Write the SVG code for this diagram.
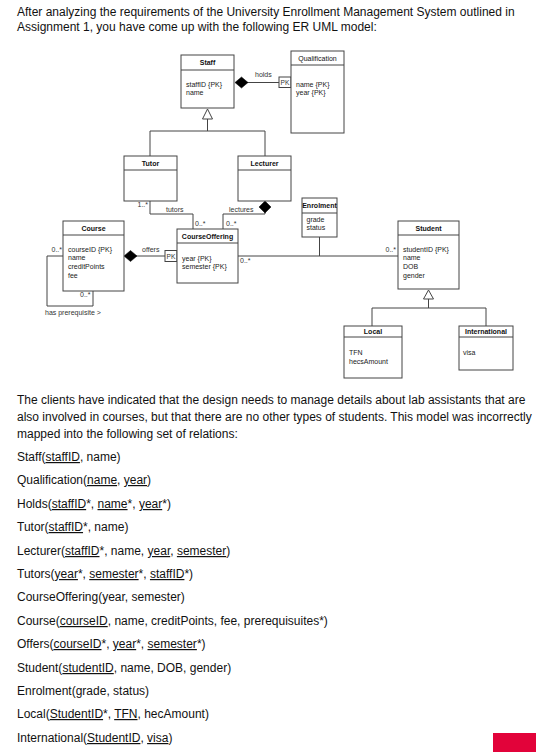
<svg xmlns="http://www.w3.org/2000/svg" width="552" height="752" viewBox="0 0 552 752">
<style>
.p{font-family:"Liberation Sans",Arial,sans-serif;font-size:12px;fill:#111}
.u{text-decoration:underline}
.box{fill:#fff;stroke:#444;stroke-width:1}
.div{stroke:#444;stroke-width:1}
.t{font-family:"Liberation Sans",Arial,sans-serif;font-size:7px;font-weight:bold;fill:#111;text-anchor:middle}
.tn{font-family:"Liberation Sans",Arial,sans-serif;font-size:7px;fill:#111;text-anchor:middle}
.a{font-family:"Liberation Sans",Arial,sans-serif;font-size:7px;fill:#222}
.ln{fill:none;stroke:#444;stroke-width:1}
.dia{fill:#000;stroke:#000;stroke-width:0.5}
.tri{fill:#fff;stroke:#444;stroke-width:1}
.lb{font-family:"Liberation Sans",Arial,sans-serif;font-size:7px;fill:#333}
.pk{font-family:"Liberation Sans",Arial,sans-serif;font-size:6.6px;fill:#333;text-anchor:middle}
</style>
<rect width="552" height="752" fill="#fff"/>
<g id="intro">
<text class="p" x="17" y="16">After analyzing the requirements of the University Enrollment Management System outlined in</text>
<text class="p" x="17" y="31">Assignment 1, you have come up with the following ER UML model:</text>
</g>
<g id="connectors">
<polyline class="ln" points="207.5,119 207.5,131"/>
<polyline class="ln" points="150,156 150,131 265,131 265,156"/>
<polygon class="tri" points="207.5,109 202.5,119 212.5,119"/>
<polyline class="ln" points="428.5,299 428.5,308"/>
<polyline class="ln" points="372,326 372,308 486,308 486,326"/>
<polygon class="tri" points="428.5,290 423.5,299 433.5,299"/>
<line class="ln" x1="247" y1="82.5" x2="279" y2="82.5"/>
<polygon class="dia" points="235,82.5 241.5,77 248,82.5 241.5,88"/>
<rect class="box" x="279" y="77" width="12" height="10.5"/>
<text class="pk" x="285" y="84.8">PK</text>
<text class="lb" x="255" y="77">holds</text>
<line class="ln" x1="136" y1="256" x2="165" y2="256"/>
<polygon class="dia" points="124,256 130.5,250.5 137,256 130.5,261.5"/>
<rect class="box" x="165" y="250.5" width="12" height="11"/>
<text class="pk" x="171" y="258.5">PK</text>
<text class="lb" x="142" y="251.5">offers</text>
<polyline class="ln" points="63,256 47,256 47,306 93,306 93,291"/>
<text class="lb" x="62" y="251.5" text-anchor="end">0..*</text>
<text class="lb" x="80" y="296.5">0..*</text>
<text class="lb" x="45" y="314.5">has prerequisite &gt;</text>
<polyline class="ln" points="150,201 150,214 193,214 193,229"/>
<text class="lb" x="148" y="206.5" text-anchor="end">1..*</text>
<text class="lb" x="166" y="211.5">tutors</text>
<text class="lb" x="195" y="226">0..*</text>
<polyline class="ln" points="223,229 223,214 265,214 265,212"/>
<polygon class="dia" points="265,201 271,207 265,213 259,207"/>
<text class="lb" x="229" y="211.5">lectures</text>
<text class="lb" x="226" y="226">0..*</text>
<line class="ln" x1="238" y1="256" x2="398" y2="256"/>
<line class="ln" x1="319.5" y1="237" x2="319.5" y2="256"/>
<text class="lb" x="240" y="263">0..*</text>
<text class="lb" x="396" y="251.5" text-anchor="end">0..*</text>
</g>
<g id="staff">
<rect class="box" x="181" y="55" width="53" height="53"/>
<line class="div" x1="181" y1="70" x2="234" y2="70"/>
<text class="t" x="207.5" y="64.5">Staff</text>
<text class="a" x="186" y="86.5">staffID {PK}</text>
<text class="a" x="186" y="95.2">name</text>
</g>
<g id="qualification">
<rect class="box" x="291" y="51" width="53" height="82"/>
<line class="div" x1="291" y1="65" x2="344" y2="65"/>
<text class="tn" x="317.5" y="60.5">Qualification</text>
<text class="a" x="296" y="86.5">name {PK}</text>
<text class="a" x="296" y="95.2">year {PK}</text>
</g>
<g id="tutor">
<rect class="box" x="124" y="156" width="53" height="45"/>
<line class="div" x1="124" y1="170" x2="177" y2="170"/>
<text class="t" x="150.5" y="165.5">Tutor</text>
</g>
<g id="lecturer">
<rect class="box" x="238" y="156" width="53" height="45"/>
<line class="div" x1="238" y1="170" x2="291" y2="170"/>
<text class="t" x="264.5" y="165.5">Lecturer</text>
</g>
<g id="course">
<rect class="box" x="63" y="221" width="61" height="70"/>
<line class="div" x1="63" y1="235" x2="124" y2="235"/>
<text class="t" x="93.5" y="230.5">Course</text>
<text class="a" x="68" y="251.5">courseID {PK}</text>
<text class="a" x="68" y="260.2">name</text>
<text class="a" x="68" y="268.9">creditPoints</text>
<text class="a" x="68" y="277.6">fee</text>
</g>
<g id="courseoffering">
<rect class="box" x="177" y="229" width="61" height="54"/>
<line class="div" x1="177" y1="243" x2="238" y2="243"/>
<text class="t" x="207.5" y="238.5">CourseOffering</text>
<text class="a" x="182" y="260.5">year {PK}</text>
<text class="a" x="182" y="268.5">semester {PK}</text>
</g>
<g id="enrolment">
<rect class="box" x="302" y="198" width="35" height="39"/>
<line class="div" x1="302" y1="213" x2="337" y2="213"/>
<text class="t" x="319.5" y="207.5">Enrolment</text>
<text class="a" x="306.5" y="221.5">grade</text>
<text class="a" x="306.5" y="229.5">status</text>
</g>
<g id="student">
<rect class="box" x="398" y="221" width="61" height="68"/>
<line class="div" x1="398" y1="235" x2="459" y2="235"/>
<text class="t" x="428.5" y="230.5">Student</text>
<text class="a" x="403" y="251.5">studentID {PK}</text>
<text class="a" x="403" y="260.2">name</text>
<text class="a" x="403" y="268.9">DOB</text>
<text class="a" x="403" y="277.6">gender</text>
</g>
<g id="local">
<rect class="box" x="344" y="326" width="58" height="52"/>
<line class="div" x1="344" y1="337" x2="402" y2="337"/>
<text class="t" x="373" y="334">Local</text>
<text class="a" x="349" y="355">TFN</text>
<text class="a" x="349" y="363.5">hecsAmount</text>
</g>
<g id="international">
<rect class="box" x="459" y="326" width="54" height="44"/>
<line class="div" x1="459" y1="337" x2="513" y2="337"/>
<text class="t" x="486" y="334">International</text>
<text class="a" x="463" y="355">visa</text>
</g>
<g id="relations">
<text class="p" x="17" y="404">The clients have indicated that the design needs to manage details about lab assistants that are</text>
<text class="p" x="17" y="421">also involved in courses, but that there are no other types of students. This model was incorrectly</text>
<text class="p" x="17" y="438">mapped into the following set of relations:</text>
<text class="p" x="17" y="461">Staff(<tspan class="u">staffID</tspan>, name)</text>
<text class="p" x="17" y="484">Qualification(<tspan class="u">name</tspan>, <tspan class="u">year</tspan>)</text>
<text class="p" x="17" y="508">Holds(<tspan class="u">staffID</tspan>*, <tspan class="u">name</tspan>*, <tspan class="u">year</tspan>*)</text>
<text class="p" x="17" y="531">Tutor(<tspan class="u">staffID</tspan>*, name)</text>
<text class="p" x="17" y="555">Lecturer(<tspan class="u">staffID</tspan>*, name, <tspan class="u">year</tspan>, <tspan class="u">semester</tspan>)</text>
<text class="p" x="17" y="578">Tutors(<tspan class="u">year</tspan>*, <tspan class="u">semester</tspan>*, <tspan class="u">staffID</tspan>*)</text>
<text class="p" x="17" y="601">CourseOffering(year, semester)</text>
<text class="p" x="17" y="625">Course(<tspan class="u">courseID</tspan>, name, creditPoints, fee, prerequisuites*)</text>
<text class="p" x="17" y="648">Offers(<tspan class="u">courseID</tspan>*, <tspan class="u">year</tspan>*, <tspan class="u">semester</tspan>*)</text>
<text class="p" x="17" y="672">Student(<tspan class="u">studentID</tspan>, name, DOB, gender)</text>
<text class="p" x="17" y="695">Enrolment(grade, status)</text>
<text class="p" x="17" y="718">Local(<tspan class="u">StudentID</tspan>*, <tspan class="u">TFN</tspan>, hecAmount)</text>
<text class="p" x="17" y="742">International(<tspan class="u">StudentID</tspan>, <tspan class="u">visa</tspan>)</text>
</g>
<rect x="493" y="733" width="43" height="19" fill="#E2033A"/>
</svg>
